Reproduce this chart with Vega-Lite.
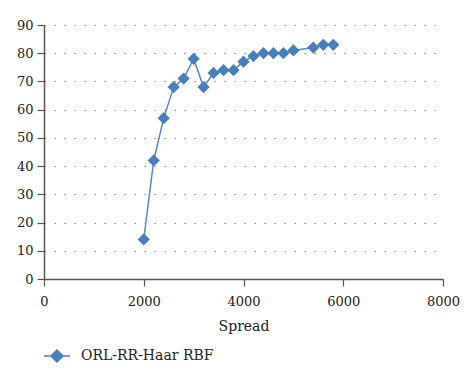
{
  "$schema": "https://vega.github.io/schema/vega-lite/v6.json",
  "width": 399,
  "height": 254,
  "autosize": {"type": "none"},
  "padding": {"left": 44, "top": 25, "right": 31, "bottom": 100},
  "background": "white",
  "config": {
    "view": {"stroke": null},
    "font": "DejaVu Serif"
  },
  "data": {
    "values": [
      {"Spread": 2000, "value": 14, "series": "ORL-RR-Haar RBF"},
      {"Spread": 2200, "value": 42, "series": "ORL-RR-Haar RBF"},
      {"Spread": 2400, "value": 57, "series": "ORL-RR-Haar RBF"},
      {"Spread": 2600, "value": 68, "series": "ORL-RR-Haar RBF"},
      {"Spread": 2800, "value": 71, "series": "ORL-RR-Haar RBF"},
      {"Spread": 3000, "value": 78, "series": "ORL-RR-Haar RBF"},
      {"Spread": 3200, "value": 68, "series": "ORL-RR-Haar RBF"},
      {"Spread": 3400, "value": 73, "series": "ORL-RR-Haar RBF"},
      {"Spread": 3600, "value": 74, "series": "ORL-RR-Haar RBF"},
      {"Spread": 3800, "value": 74, "series": "ORL-RR-Haar RBF"},
      {"Spread": 4000, "value": 77, "series": "ORL-RR-Haar RBF"},
      {"Spread": 4200, "value": 79, "series": "ORL-RR-Haar RBF"},
      {"Spread": 4400, "value": 80, "series": "ORL-RR-Haar RBF"},
      {"Spread": 4600, "value": 80, "series": "ORL-RR-Haar RBF"},
      {"Spread": 4800, "value": 80, "series": "ORL-RR-Haar RBF"},
      {"Spread": 5000, "value": 81, "series": "ORL-RR-Haar RBF"},
      {"Spread": 5400, "value": 82, "series": "ORL-RR-Haar RBF"},
      {"Spread": 5600, "value": 83, "series": "ORL-RR-Haar RBF"},
      {"Spread": 5800, "value": 83, "series": "ORL-RR-Haar RBF"}
    ]
  },
  "encoding": {
    "x": {
      "field": "Spread", "type": "quantitative",
      "scale": {"domain": [0, 8000], "nice": false, "zero": true},
      "axis": {
        "values": [0, 2000, 4000, 6000, 8000],
        "format": "d",
        "title": "Spread",
        "titleFont": "DejaVu Serif", "titleFontSize": 14, "titleFontWeight": "normal",
        "titleColor": "#222", "titlePadding": 11,
        "labelFont": "DejaVu Serif", "labelFontSize": 13, "labelColor": "#222",
        "labelPadding": 9, "tickSize": 7, "tickColor": "#555", "domainColor": "#555",
        "domainWidth": 1.5, "tickWidth": 1.2, "grid": false, "labelFlush": false
      }
    },
    "y": {
      "field": "value", "type": "quantitative",
      "scale": {"domain": [0, 90], "nice": false},
      "axis": {
        "values": [0, 10, 20, 30, 40, 50, 60, 70, 80, 90],
        "format": "d",
        "title": null,
        "labelFont": "DejaVu Serif", "labelFontSize": 13, "labelColor": "#222",
        "labelPadding": 4, "tickSize": 7, "tickColor": "#555", "domainColor": "#555",
        "domainWidth": 1.5, "tickWidth": 1.2,
        "grid": true, "gridColor": "#888", "gridDash": [1.5, 8.5], "gridWidth": 1.2
      }
    }
  },
  "layer": [
    {
      "mark": {"type": "line", "color": "#5b87bf", "strokeWidth": 1.5},
      "encoding": {}
    },
    {
      "mark": {"type": "point", "shape": "diamond", "filled": true, "size": 150, "opacity": 1},
      "encoding": {
        "color": {
          "field": "series", "type": "nominal",
          "scale": {"range": ["#4a7ebb"]},
          "legend": {
            "title": null,
            "orient": "none",
            "legendX": -1,
            "legendY": 317,
            "symbolType": "M-1,0H1M0,-0.46L0.46,0L0,0.46L-0.46,0Z",
            "symbolSize": 676,
            "symbolStrokeWidth": 1.5,
            "symbolStrokeColor": "#4a7ebb",
            "symbolFillColor": "#4a7ebb",
            "labelFont": "DejaVu Serif",
            "labelFontSize": 14,
            "labelColor": "#222",
            "labelOffset": 10
          }
        }
      }
    }
  ]
}
